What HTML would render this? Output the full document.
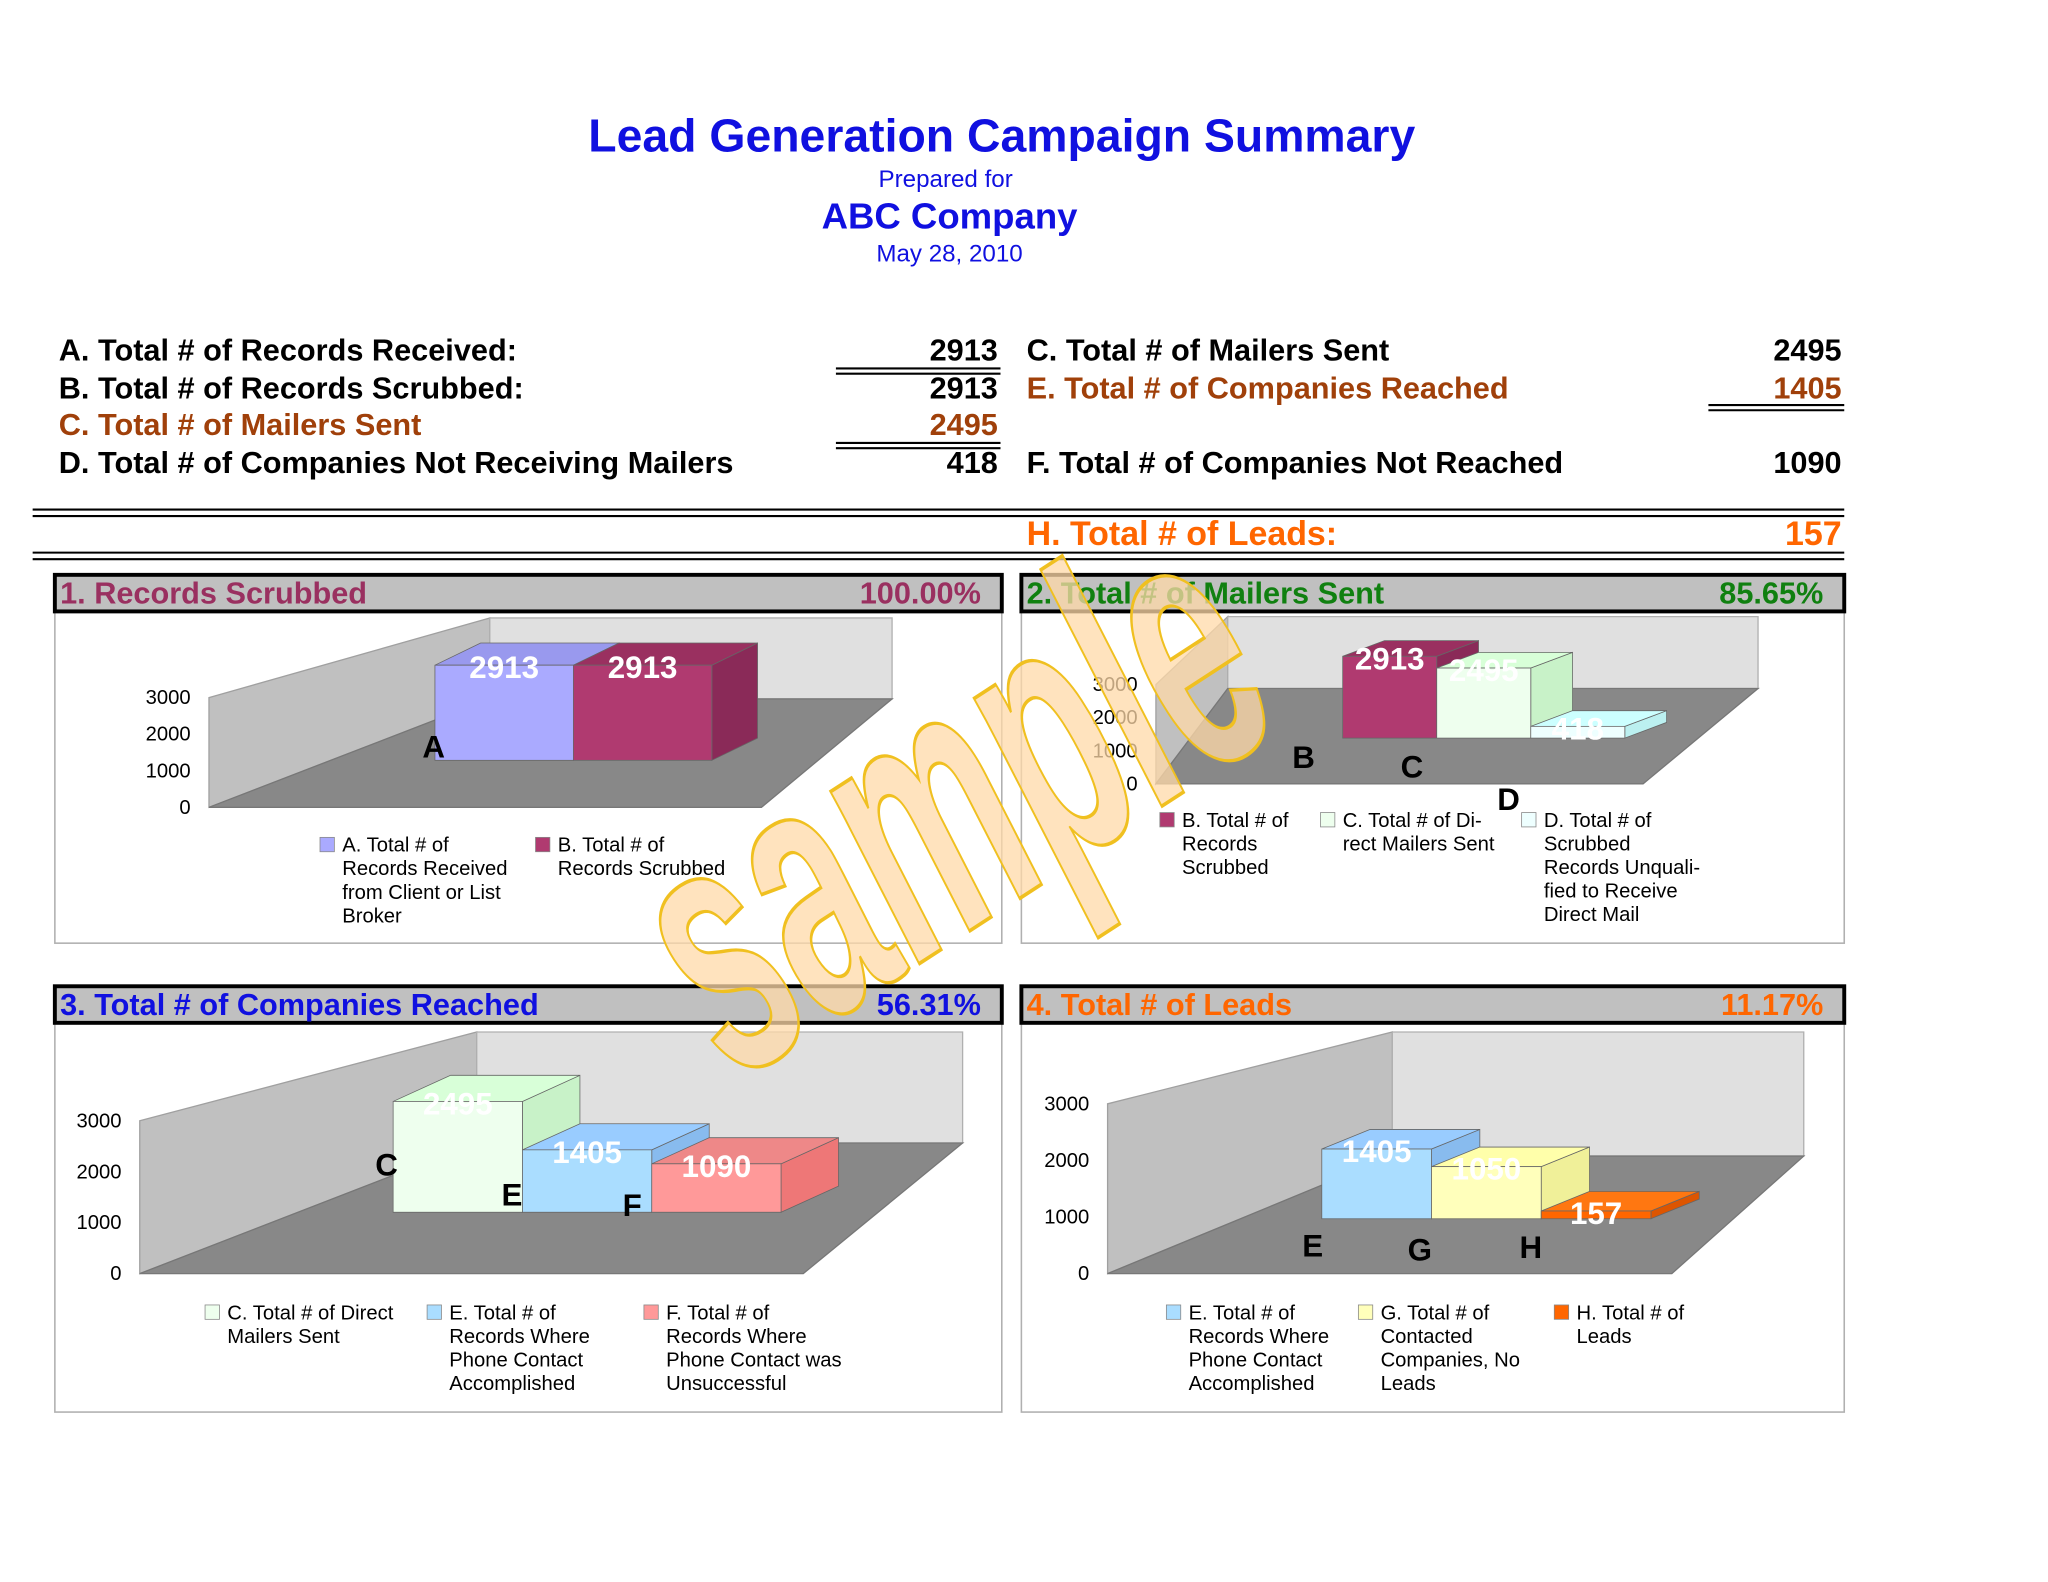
<!DOCTYPE html>
<html><head><meta charset="utf-8"><style>
html,body{margin:0;padding:0;background:#fff;}
svg{display:block;font-family:"Liberation Sans",Arial,sans-serif;}
</style></head><body>
<svg id="page" width="2048" height="1582" viewBox="0 0 1568 1211" xmlns="http://www.w3.org/2000/svg">
<rect width="1568" height="1211" fill="#fff"/>
<g fill="#1010e0" text-anchor="middle">
<text x="767" y="116" font-size="35.5" font-weight="bold">Lead Generation Campaign Summary</text>
<text x="724" y="143" font-size="18.5">Prepared for</text>
<text x="727" y="175" font-size="28" font-weight="bold">ABC Company</text>
<text x="727" y="200" font-size="18.5">May 28, 2010</text>
</g>
<g font-size="23.5" font-weight="bold" xml:space="preserve">
<text x="45" y="276">A.  Total # of Records Received:</text>
<text x="764" y="276" text-anchor="end">2913</text>
<text x="45" y="305">B.  Total # of Records Scrubbed:</text>
<text x="764" y="305" text-anchor="end">2913</text>
<text x="45" y="333" fill="#a0400a">C.  Total # of Mailers Sent</text>
<text x="764" y="333" text-anchor="end" fill="#a0400a">2495</text>
<text x="45" y="362">D.  Total # of Companies Not Receiving Mailers</text>
<text x="764" y="362" text-anchor="end">418</text>
<text x="786" y="276">C.  Total # of Mailers Sent</text>
<text x="1410" y="276" text-anchor="end">2495</text>
<text x="786" y="305" fill="#a0400a">E.  Total # of Companies Reached</text>
<text x="1410" y="305" text-anchor="end" fill="#a0400a">1405</text>
<text x="786" y="362">F.  Total # of Companies Not Reached</text>
<text x="1410" y="362" text-anchor="end">1090</text>
<text x="786" y="417" fill="#ff6600" font-size="26">H.  Total # of Leads:</text>
<text x="1410" y="417" text-anchor="end" fill="#ff6600" font-size="26">157</text>
<g stroke="#000" stroke-width="1.6">
<line x1="640" y1="282" x2="766" y2="282"/><line x1="640" y1="286" x2="766" y2="286"/>
<line x1="640" y1="339" x2="766" y2="339"/><line x1="640" y1="343" x2="766" y2="343"/>
<line x1="1308" y1="310" x2="1412" y2="310"/><line x1="1308" y1="314" x2="1412" y2="314"/>
<line x1="25" y1="390" x2="1412" y2="390"/><line x1="25" y1="395" x2="1412" y2="395"/>
<line x1="25" y1="423" x2="1412" y2="423"/><line x1="25" y1="428" x2="1412" y2="428"/>
</g>
</g>
<g id="charts"></g>
<g transform="translate(735,625) rotate(-33) scale(0.82,1.55)">
<text x="0" y="50" text-anchor="middle" font-size="180" font-weight="bold" font-style="italic" fill="#ffd9a8" fill-opacity="0.75" stroke="#f0c020" stroke-width="1.8">sample</text>
</g>
</svg>
<script>
// Chart 1
const c1Categories = ["A", "B"];
const c1Values = [2913, 2913];
const c1Ticks = [0, 1000, 2000, 3000];
// Chart 2
const c2Categories = ["B", "C", "D"];
const c2Values = [2913, 2495, 418];
const c2Ticks = [0, 1000, 2000, 3000];
// Chart 3
const c3Categories = ["C", "E", "F"];
const c3Values = [2495, 1405, 1090];
const c3Ticks = [0, 1000, 2000, 3000];
// Chart 4
const c4Categories = ["E", "G", "H"];
const c4Values = [1405, 1050, 157];
const c4Ticks = [0, 1000, 2000, 3000];

const NS = "http://www.w3.org/2000/svg";
const root = document.getElementById('charts');
function el(tag, attrs, parent, txt) {
  const e = document.createElementNS(NS, tag);
  for (const k in attrs) e.setAttribute(k, attrs[k]);
  if (txt !== undefined) e.textContent = txt;
  parent.appendChild(e);
  return e;
}
function poly(pts) { return pts.map(p => p.join(',')).join(' '); }

function drawChart(cfg, cats, vals, ticks) {
  const g = el('g', {}, root);
  
  
  const body = el('rect', {x: cfg.px, y: cfg.py + 28, width: cfg.pw, height: cfg.ph - 28, fill: '#fff', stroke: '#b0b0b0', 'stroke-width': 1.2}, g);
  
  
  const hb = el('rect', {x: cfg.px, y: cfg.py, width: cfg.pw, height: 28, fill: '#c0c0c0', stroke: '#000', 'stroke-width': 3}, g);
  
  
  const ht = el('text', {x: cfg.px + 4, y: cfg.py + 22, 'font-size': 23.5, 'font-weight': 'bold', fill: cfg.color, 'xml:space': 'preserve'}, g, cfg.title);
  
  
  const hp = el('text', {x: cfg.px + cfg.pw - 16, y: cfg.py + 22, 'font-size': 23.5, 'font-weight': 'bold', fill: cfg.color, 'text-anchor': 'end'}, g, cfg.pct);
  
  
  const w = cfg.wall;
  const side = el('polygon', {points: poly([[w.fx, w.fy], [w.fx, w.fty], [w.bx, w.bty], [w.bx, w.by]]), fill: '#c0c0c0', stroke: '#a0a0a0'}, g);
  
  
  const back = el('polygon', {points: poly([[w.bx, w.by], [w.bx, w.bty], [w.brx, w.bty], [w.brx, w.by]]), fill: '#e0e0e0', stroke: '#b0b0b0'}, g);
  
  
  const floor = el('polygon', {points: poly([[w.fx, w.fy], [w.bx, w.by], [w.brx, w.by], [w.frx, w.fy]]), fill: '#888888', stroke: '#777'}, g);
  
  
  const tmax = ticks[ticks.length - 1];
  ticks.forEach(t => {
    const y = w.fy - (t / tmax) * (w.fy - w.fty);
    const tl = el('text', {x: w.fx - 14, y: y + 5, 'font-size': 15.5, 'text-anchor': 'end'}, g, String(t));
    
    
  });
  const b = cfg.bar;
  vals.forEach((v, i) => {
    const x0 = b.x + i * b.w, x1 = x0 + b.w;
    const yb = b.base, yt = b.base - v * b.scale;
    const c = cfg.colors[i];
    const bg = el('g', {}, g);
    
    
    el('polygon', {points: poly([[x1, yb], [x1, yt], [x1 + b.dx, yt + b.dy], [x1 + b.dx, yb + b.dy]]), fill: c[2], stroke: '#666', 'stroke-width': 0.6}, bg);
    el('polygon', {points: poly([[x0, yt], [x0 + b.dx, yt + b.dy], [x1 + b.dx, yt + b.dy], [x1, yt]]), fill: c[1], stroke: '#666', 'stroke-width': 0.6}, bg);
    el('rect', {x: x0, y: yt, width: b.w, height: yb - yt, fill: c[0], stroke: '#666', 'stroke-width': 0.6}, bg);
    const vl = el('text', {x: (x0 + x1) / 2, y: yt + 10, 'font-size': 24, 'font-weight': 'bold', fill: '#fff', 'text-anchor': 'middle'}, g, String(v));
    
    
  });
  cats.forEach((c, i) => {
    const p = cfg.letters[i];
    const lt = el('text', {x: p[0], y: p[1], 'font-size': 24, 'font-weight': 'bold', 'text-anchor': 'middle'}, g, c);
    
    
  });
  cfg.legend.forEach((L, i) => {
    const lg = el('g', {}, g);
    
    
    el('rect', {x: L.x, y: cfg.ly - 11, width: 11, height: 11, fill: cfg.colors[i][0], stroke: '#888', 'stroke-width': 0.6}, lg);
    L.lines.forEach((s, j) => el('text', {x: L.x + 17, y: cfg.ly + j * 18, 'font-size': 15.5, 'xml:space': 'preserve'}, lg, s));
  });
}

const cA = ['#aaaaff', '#9999ee', '#8888dd'], cB = ['#b03a70', '#9a3060', '#8a2a58'];
const cC = ['#eeffee', '#d8ffd8', '#c8f2c8'], cD = ['#eeffff', '#ccffff', '#bbf0f0'];
const cE = ['#aaddff', '#99ccff', '#88bbee'], cF = ['#ff9999', '#ee8888', '#ee7777'];
const cG = ['#ffffbb', '#ffffaa', '#f0f099'], cH = ['#ff6600', '#ff7711', '#dd5500'];

drawChart({name: 'chart-records-scrubbed', px: 42, py: 440, pw: 725, ph: 282, color: '#9a3060', title: '1. Records Scrubbed', pct: '100.00%',
  wall: {fx: 160, fy: 618, fty: 534, bx: 375, by: 535, bty: 473, brx: 683, frx: 583},
  bar: {x: 333, w: 106, base: 582, scale: 0.025, dx: 35, dy: -17},
  colors: [cA, cB], letters: [[332, 580], [0, -50]], ly: 652,
  legend: [{x: 245, lines: ['A.  Total # of', 'Records Received', 'from Client or List', 'Broker']}, {x: 410, lines: ['B.  Total # of', 'Records Scrubbed']}]
}, c1Categories, c1Values, c1Ticks);

drawChart({name: 'chart-mailers-sent', px: 782, py: 440, pw: 630, ph: 282, color: '#108010', title: '2.  Total # of Mailers Sent', pct: '85.65%',
  wall: {fx: 885, fy: 600, fty: 524, bx: 940, by: 527, bty: 472, brx: 1346, frx: 1258},
  bar: {x: 1028, w: 72, base: 565, scale: 0.0215, dx: 32, dy: -12},
  colors: [cB, cC, cD], letters: [[998, 588], [1081, 595], [1155, 620]], ly: 633,
  legend: [{x: 888, lines: ['B.  Total # of', 'Records', 'Scrubbed']}, {x: 1011, lines: ['C.  Total # of Di-', 'rect Mailers Sent']}, {x: 1165, lines: ['D.  Total # of', 'Scrubbed', 'Records Unquali-', 'fied to Receive', 'Direct Mail']}]
}, c2Categories, c2Values, c2Ticks);

drawChart({name: 'chart-companies-reached', px: 42, py: 755, pw: 725, ph: 326, color: '#1010e0', title: '3. Total # of Companies Reached', pct: '56.31%',
  wall: {fx: 107, fy: 975, fty: 858, bx: 365, by: 875, bty: 790, brx: 737, frx: 615},
  bar: {x: 301, w: 99, base: 928, scale: 0.034, dx: 44, dy: -20},
  colors: [cC, cE, cF], letters: [[296, 900], [392, 923], [484, 931]], ly: 1010,
  legend: [{x: 157, lines: ['C.  Total # of Direct', 'Mailers Sent']}, {x: 327, lines: ['E.  Total # of', 'Records Where', 'Phone Contact', 'Accomplished']}, {x: 493, lines: ['F.  Total # of', 'Records Where', 'Phone Contact was', 'Unsuccessful']}]
}, c3Categories, c3Values, c3Ticks);

drawChart({name: 'chart-total-leads', px: 782, py: 755, pw: 630, ph: 326, color: '#ff6600', title: '4. Total # of Leads', pct: '11.17%',
  wall: {fx: 848, fy: 975, fty: 845, bx: 1066, by: 885, bty: 790, brx: 1381, frx: 1280},
  bar: {x: 1012, w: 84, base: 933, scale: 0.038, dx: 37, dy: -15},
  colors: [cE, cG, cH], letters: [[1005, 962], [1087, 965], [1172, 963]], ly: 1010,
  legend: [{x: 893, lines: ['E.  Total # of', 'Records Where', 'Phone Contact', 'Accomplished']}, {x: 1040, lines: ['G.  Total # of', 'Contacted', 'Companies, No', 'Leads']}, {x: 1190, lines: ['H.  Total # of', 'Leads']}]
}, c4Categories, c4Values, c4Ticks);
</script>
</body></html>
